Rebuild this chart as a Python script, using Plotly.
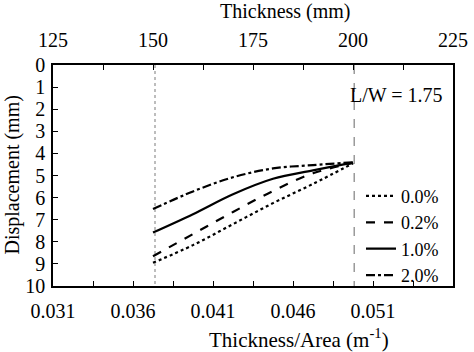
import plotly.graph_objects as go

thickness = [150, 160, 170, 180, 190, 200]
disp_00 = [8.95, 8.15, 7.20, 6.25, 5.38, 4.45]
disp_02 = [8.65, 7.65, 6.65, 5.70, 4.90, 4.43]
disp_10 = [7.58, 6.75, 5.85, 5.15, 4.77, 4.42]
disp_20 = [6.52, 5.72, 5.08, 4.68, 4.53, 4.40]
series = [("0.0%", disp_00, "dot"), ("0.2%", disp_02, "dash"),
          ("1.0%", disp_10, "solid"), ("2.0%", disp_20, "dashdot")]
ref_lines = [(150.5, "dot", "#9a9a9a"), (200.3, "dash", "#8a8a8a")]
bottom_range = [0.031, 0.056]
top_range = [125, 225]

FONT = "Liberation Serif"
fig = go.Figure()
for t, dash, col in ref_lines:
    fig.add_trace(go.Scatter(x=[t, t], y=[0, 10], xaxis="x2", mode="lines",
                             line=dict(color=col, width=1.3, dash=dash),
                             showlegend=False, hoverinfo="skip"))
for name, ys, dash in series:
    fig.add_trace(go.Scatter(x=thickness, y=ys, xaxis="x2", name=name, mode="lines",
                             line=dict(color="black", width=2.2, dash=dash, shape="spline")))
fig.add_trace(go.Scatter(x=bottom_range, y=[None, None], xaxis="x", showlegend=False,
                         hoverinfo="skip"))

axis_common = dict(showline=True, linecolor="black", linewidth=1.5, ticks="inside",
                   ticklen=5, tickcolor="black", tickwidth=1, showgrid=False, zeroline=False,
                   automargin=False,
                   tickfont=dict(family=FONT, size=20, color="black"))
fig.update_layout(
    width=474, height=352, margin=dict(l=53, r=21, t=65, b=66),
    plot_bgcolor="white", paper_bgcolor="white",
    font=dict(family=FONT, color="black"),
    xaxis=dict(range=bottom_range, tick0=0.031, dtick=0.005, tickformat=".3f",
               minor=dict(dtick=0.0025, tick0=0.031, ticks="inside", ticklen=5,
                          tickcolor="black"),
               ticklabelstandoff=6, mirror=False, **axis_common),
    xaxis2=dict(range=top_range, overlaying="x", side="top", tick0=125, dtick=25,
                minor=dict(dtick=12.5, tick0=125, ticks="inside", ticklen=5,
                           tickcolor="black"),
                ticklabelstandoff=8, **axis_common),
    yaxis=dict(range=[10, 0], dtick=1, mirror=True, ticklabelstandoff=2, **axis_common),
    legend=dict(x=0.77, y=0.49, xanchor="left", yanchor="top", bgcolor="rgba(0,0,0,0)",
                font=dict(family=FONT, size=18, color="black"), tracegroupgap=0),
    showlegend=True,
)
fig.add_annotation(text="Thickness (mm)", xref="paper", yref="paper", x=0.58, y=1.0,
                   xanchor="center", yanchor="middle", yshift=54, showarrow=False,
                   font=dict(family=FONT, size=20))
fig.add_annotation(text="Thickness/Area (m<sup>-1</sup>)", xref="paper", yref="paper",
                   x=0.615, y=0, xanchor="center", yanchor="middle", yshift=-52,
                   showarrow=False, font=dict(family=FONT, size=21))
fig.add_annotation(text="Displacement (mm)", xref="paper", yref="paper", x=0, y=0.5,
                   xanchor="center", yanchor="middle", xshift=-41, textangle=-90,
                   showarrow=False, font=dict(family=FONT, size=20))
fig.add_annotation(text="L/W = 1.75", xref="paper", yref="paper", x=0.98, y=0.864,
                   xanchor="right", yanchor="middle", showarrow=False,
                   font=dict(family=FONT, size=20))
fig.write_html("out.html")
